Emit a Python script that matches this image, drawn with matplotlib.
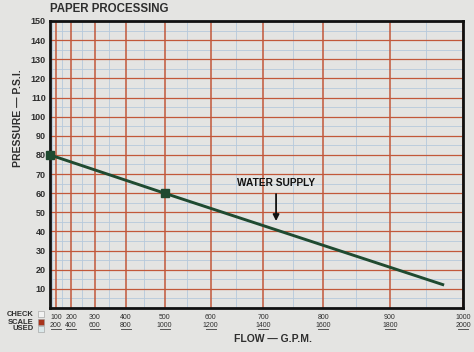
import numpy as np
import matplotlib
matplotlib.use("Agg")
import matplotlib.pyplot as plt
import matplotlib.transforms as mtransforms

# ---- data ----
flow_ticks = [100, 200, 300, 400, 500, 600, 700, 800, 900, 1000]
flow_ticks_alt = [200, 400, 600, 800, 1000, 1200, 1400, 1600, 1800, 2000]
flow_minor = [50, 150, 250, 350, 450, 550, 650, 750, 850, 950]
pressure_ticks = [10, 20, 30, 40, 50, 60, 70, 80, 90, 100, 110, 120, 130, 140, 150]
pressure_minor = [5, 15, 25, 35, 45, 55, 65, 75, 85, 95, 105, 115, 125, 135, 145]
curve_flow = [0, 500, 975]
curve_pressure = [80, 60, 12]
marker_flow = [0, 500]
marker_pressure = [80, 60]
supply_flow = 722
supply_tip = 44
supply_tail = 61

EXP = 1.85
def fwd(x):
    x = np.asarray(x, dtype=float)
    return np.sign(x) * np.abs(x) ** EXP
def inv(y):
    y = np.asarray(y, dtype=float)
    return np.sign(y) * np.abs(y) ** (1.0 / EXP)

plt.rcParams['font.family'] = ['Liberation Sans', 'DejaVu Sans']

BG = '#e4e4e2'
RED = '#c2583a'
BLUE = '#b6c9dc'
GREEN = '#1f4a30'
TXT = '#2e2e2e'

fig = plt.figure(figsize=(4.74, 3.52), dpi=100, facecolor=BG)
ax = fig.add_axes([50/474, 1-308/352, 413/474, 287/352])
ax.set_facecolor(BG)
ax.set_xscale('function', functions=(fwd, inv))
ax.set_xlim(0, 1000)
ax.set_ylim(0, 150)

# grid
for v in flow_minor:
    ax.axvline(v, color=BLUE, lw=0.6, zorder=1)
for v in pressure_minor:
    ax.axhline(v, color=BLUE, lw=0.6, zorder=1)
for v in flow_ticks:
    ax.axvline(v, color=RED, lw=1.1, zorder=2)
for v in pressure_ticks:
    ax.axhline(v, color=RED, lw=0.9, zorder=2)

for s in ax.spines.values():
    s.set_linewidth(2.0)
    s.set_color('#111111')
    s.set_zorder(5)

ax.set_xticks([])
ax.set_yticks(pressure_ticks)
ax.set_yticklabels([str(p) for p in pressure_ticks], fontsize=6.5,
                   fontweight='bold', color=TXT)
ax.tick_params(axis='y', length=0, pad=3)

# curve
ax.plot(curve_flow, curve_pressure, color=GREEN, lw=2.1, zorder=6,
        solid_capstyle='butt', clip_on=False)
ax.plot(marker_flow, marker_pressure, 's', color=GREEN, ms=6, zorder=7,
        clip_on=False)

# water supply
ax.annotate('', xy=(supply_flow, supply_tip), xytext=(supply_flow, supply_tail),
            arrowprops=dict(arrowstyle='-|>', color='#111111', lw=1.3,
                            mutation_scale=9), zorder=8)
ax.text(supply_flow, supply_tail + 1.5, 'WATER SUPPLY', ha='center', va='bottom',
        fontsize=7.3, fontweight='bold', color='#111111', zorder=8)

# x tick labels (two rows + underline)
trans = mtransforms.blended_transform_factory(ax.transData, ax.transAxes)
for a, b in zip(flow_ticks, flow_ticks_alt):
    ax.text(a, -0.02, str(a), transform=trans, ha='center', va='top',
            fontsize=5, color=TXT)
    ax.text(a, -0.048, str(b), transform=trans, ha='center', va='top',
            fontsize=5, color=TXT)
# underlines
for a in flow_ticks:
    x_disp = ax.transData.transform((a, 0))[0]
    x_fig = fig.transFigure.inverted().transform((x_disp, 0))[0]
    fig.add_artist(plt.Line2D([x_fig - 5/474, x_fig + 5/474], [1-329/352]*2,
                              color='#555555', lw=0.7))

# CHECK SCALE USED
for label, yy in [('CHECK', 314), ('SCALE', 322), ('USED', 329)]:
    fig.text(34/474, 1-yy/352, label, ha='right', va='center', fontsize=5.5,
             fontweight='bold', color=TXT)
for fc, yy in [('#f2f2f2', 314), ('#a8341c', 322), ('#dbe8ea', 329)]:
    fig.add_artist(plt.Rectangle((38/474, 1-(yy+3)/352), 6/474, 6/352,
                                 facecolor=fc, edgecolor='#999999', lw=0.4,
                                 transform=fig.transFigure))

# titles
fig.text(50/474, 1-9/352, 'PAPER PROCESSING', ha='left', va='center',
         fontsize=8.3, fontweight='bold', color=TXT)
fig.text(18/474, 1-118/352, 'PRESSURE — P.S.I.', ha='center', va='center',
         rotation=90, fontsize=7.5, fontweight='bold', color=TXT)
fig.text(273/474, 1-339/352, 'FLOW — G.P.M.', ha='center', va='center',
         fontsize=7.5, fontweight='bold', color=TXT)

fig.savefig('out.png', dpi=100, facecolor=BG)
